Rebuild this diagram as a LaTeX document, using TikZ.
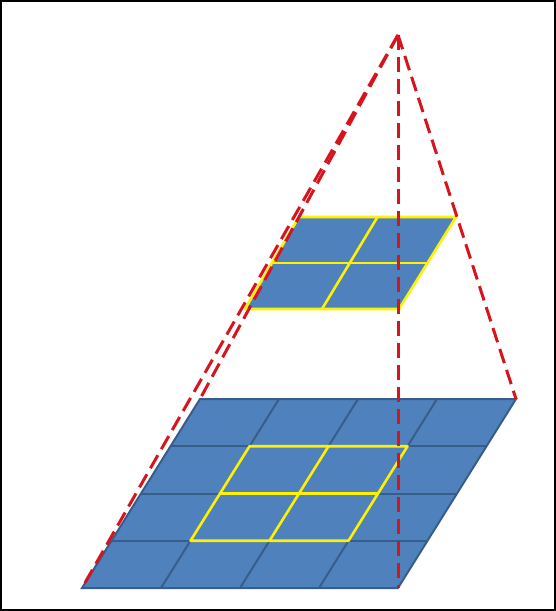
\documentclass[tikz,border=0pt]{standalone}
\usetikzlibrary{calc}
\definecolor{cellblue}{RGB}{79,129,189}
\definecolor{edgeblue}{RGB}{56,93,138}
\definecolor{dashred}{RGB}{214,20,30}
\tikzset{
  frame/.style    = {draw=black, line width=1pt},
  layer/.style    = {fill=cellblue, draw=edgeblue, line width=1pt},
  cellline/.style = {draw=edgeblue, line width=1pt},
  window/.style   = {draw=yellow, line width=1.3pt, line join=round},
  ray/.style      = {draw=dashred, line width=1.5pt, dash pattern=on 7.5pt off 3.5pt}
}

\begin{document}
\begin{tikzpicture}[x=0.5pt, y=-0.5pt]
\useasboundingbox (0,0) rectangle (556,611);
\draw[frame] (1,1) rectangle (555,610);

% corners of the lower layer and the apex
\coordinate (apex) at (398,35);
\coordinate (bl) at (82,588);
\coordinate (br) at (398,588);
\coordinate (tr) at (516,399);
\coordinate (tl) at (200,399);

% corners of the upper layer
\coordinate (sbl) at (245,309);
\coordinate (sbr) at (399,309);
\coordinate (str) at (456,217);
\coordinate (stl) at (299,217);

% lower layer, 4x4 cells
\path[layer] (bl) -- (br) -- (tr) -- (tl) -- cycle;
\foreach \i in {1,2,3} {
  \draw[cellline] ($(bl)!\i/4!(tl)$) -- ($(br)!\i/4!(tr)$);
  \draw[cellline] ($(bl)!\i/4!(br)$) -- ($(tl)!\i/4!(tr)$);
}

% window on the lower layer, 2x2 cells
\coordinate (w1) at ($(bl)!0.25!(tl)$);
\coordinate (w2) at ($(br)!0.25!(tr)$);
\coordinate (w3) at ($(bl)!0.75!(tl)$);
\coordinate (w4) at ($(br)!0.75!(tr)$);
\coordinate (w5) at ($(bl)!0.5!(tl)$);
\coordinate (w6) at ($(br)!0.5!(tr)$);
\draw[window] ($(w1)!0.25!(w2)$) -- ($(w1)!0.75!(w2)$) -- ($(w3)!0.75!(w4)$) -- ($(w3)!0.25!(w4)$) -- cycle;
\draw[window] ($(w1)!0.5!(w2)$) -- ($(w3)!0.5!(w4)$);
\draw[window] ($(w5)!0.25!(w6)$) -- ($(w5)!0.75!(w6)$);

% upper layer, 2x2 cells
\path[layer, window] (sbl) -- (sbr) -- (str) -- (stl) -- cycle;
\draw[window] ($(sbl)!0.5!(stl)$) -- ($(sbr)!0.5!(str)$);
\draw[window] ($(sbl)!0.5!(sbr)$) -- ($(stl)!0.5!(str)$);

% rays from the apex
\foreach \c in {bl,tl,tr,br}
  \draw[ray] (apex) -- (\c);
\end{tikzpicture}
\end{document}
